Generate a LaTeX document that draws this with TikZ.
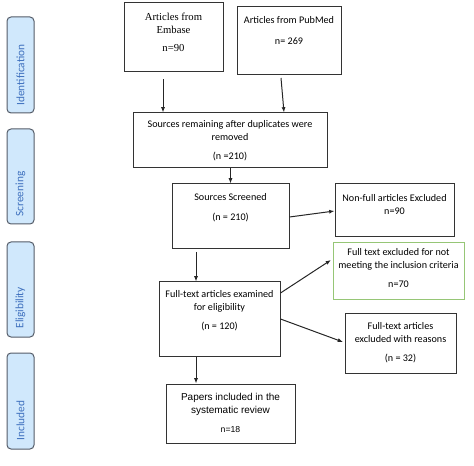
\documentclass[tikz,border=0pt]{standalone}
\usepackage{fontspec}
\setmainfont{Carlito}
\newfontfamily\serifface{Liberation Serif}
\newfontfamily\arialface{Liberation Sans}
\usetikzlibrary{arrows.meta}

\definecolor{stageFill}{RGB}{208,232,252}
\definecolor{stageLine}{RGB}{84,92,104}
\definecolor{stageText}{RGB}{62,112,190}
\definecolor{greenLine}{RGB}{150,198,118}

\tikzset{every picture/.style={line width=0.75pt}}
\tikzset{
  stagebox/.style={draw=stageLine,fill=stageFill,rounded corners=3pt,inner sep=0pt},
  stagetext/.style={rotate=90,anchor=west,text=stageText,font=\fontsize{8.5}{10}\selectfont,inner sep=0.75pt},
  flowbox/.style={draw=black!80,inner sep=0pt},
  flowtext/.style={align=center,inner sep=0.75pt,font=\fontsize{7.6}{9.75}\selectfont},
  flowarrow/.style={-{Latex[length=4pt,width=3pt]},black!85}
}

\begin{document}
\begin{tikzpicture}[x=0.75pt,y=0.75pt,yscale=-1,xscale=1]
		\useasboundingbox (0,0) rectangle (474,466);

		% Stage: Identification
		\draw [stagebox] (7,17) rectangle (34,113);
		\draw (20.5,107) node [stagetext] (idlabel) {Identification};
		% Stage: Screening
		\draw [stagebox] (7,129) rectangle (34,224);
		\draw (20.5,218) node [stagetext] (scrlabel) {Screening};
		% Stage: Eligibility
		\draw [stagebox] (7,242) rectangle (34,337);
		\draw (20.5,330) node [stagetext] (elilabel) {Eligibility};
		% Stage: Included
		\draw [stagebox] (7,353) rectangle (34,449);
		\draw (20.5,442) node [stagetext] (inclabel) {Included};

		% Box: Embase
		\draw (173.5,37.5) node [flowbox,minimum width=74.25pt,minimum height=51.75pt] (embase) {};
		\draw (173.5,32) node [flowtext,font=\serifface\fontsize{8}{9.75}\selectfont] (embasetxt) {Articles from\\Embase\\[4pt]n=90};
		% Box: PubMed
		\draw (289,41) node [flowbox,minimum width=78pt,minimum height=51pt] (pubmed) {};
		\draw (289,30.5) node [flowtext,font=\fontsize{7.6}{15.75}\selectfont] (pubmedtxt) {Articles from PubMed\\n= 269};

		% Box: duplicates removed
		\draw (230,140.5) node [flowbox,minimum width=145.5pt,minimum height=41.25pt] (dedup) {};
		\draw (230,141) node [flowtext] (deduptxt) {Sources remaining after duplicates were\\removed\\[4.5pt](n =210)};

		% Box: screened
		\draw (230.5,216.5) node [flowbox,minimum width=87.75pt,minimum height=48.75pt] (screened) {};
		\draw (230.5,208) node [flowtext,font=\fontsize{7.6}{15}\selectfont] (screenedtxt) {Sources Screened\\(n = 210)};

		% Box: non-full excluded
		\draw (394.5,210.5) node [flowbox,minimum width=89.25pt,minimum height=39.75pt] (nonfull) {};
		\draw (394.5,204.5) node [flowtext] (nonfulltxt) {Non-full articles Excluded\\n=90};

		% Box: not meeting criteria
		\draw (398.5,271) node [draw=greenLine,inner sep=0pt,minimum width=98.25pt,minimum height=42pt] (criteria) {};
		\draw (398.5,268.5) node [flowtext] (criteriatxt) {Full text excluded for not\\meeting the inclusion criteria\\[4.5pt]n=70};

		% Box: examined for eligibility
		\draw (219.5,319) node [flowbox,minimum width=90.75pt,minimum height=55.5pt] (examined) {};
		\draw (219.5,311) node [flowtext] (examinedtxt) {Full-text articles examined\\for eligibility\\[4.5pt](n = 120)};

		% Box: excluded with reasons
		\draw (400.5,343) node [flowbox,minimum width=83.25pt,minimum height=45pt] (reasons) {};
		\draw (400.5,342.5) node [flowtext] (reasonstxt) {Full-text articles\\excluded with reasons\\[4.5pt](n = 32)};

		% Box: included papers
		\draw (230.5,413.5) node [flowbox,minimum width=96.75pt,minimum height=44.25pt] (papers) {};
		\draw (230.5,413) node [flowtext,font=\arialface\fontsize{7.5}{9.75}\selectfont] (paperstxt) {Papers included in the\\systematic review\\[4.5pt]{\fontsize{6.5}{8}\selectfont n=18}};

		% Arrows
		\draw [flowarrow] (embase.south -| 163,0) ++(0,7) -- (dedup.north -| 163,0);
		\draw [flowarrow] (281,78) -- (284,112.5);
		\draw [flowarrow] (dedup.south -| screened.north) -- (screened.north);
		\draw [flowarrow] (screened.east |- 0,217) -- (nonfull.west |- 0,211);
		\draw [flowarrow] (196,252) -- (examined.north -| 196,0);
		\draw [flowarrow] (examined.east |- 0,293) -- (331,260);
		\draw [flowarrow] (examined.east |- 0,319) -- (343,342);
		\draw [flowarrow] (examined.south -| 196,0) -- (papers.north -| 196,0);

		\end{tikzpicture}
\end{document}
